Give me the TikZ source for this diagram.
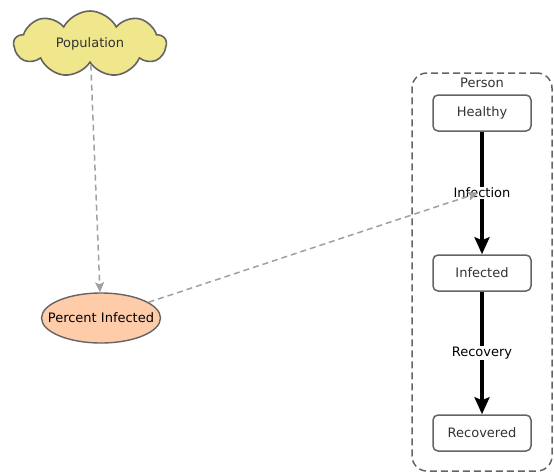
\documentclass[tikz,border=0pt]{standalone}
\usepackage{fontspec}
\setmainfont{DejaVu Sans}
\usetikzlibrary{shapes.symbols,shapes.geometric,arrows.meta,positioning}
\definecolor{cloudfill}{RGB}{240,230,140}
\definecolor{auxfill}{RGB}{255,204,170}
\definecolor{edgegray}{RGB}{100,100,100}
\definecolor{linkgray}{RGB}{160,160,160}
\definecolor{textgray}{RGB}{50,50,50}

\begin{document}
\begin{tikzpicture}[x=1pt, y=-1pt, node distance={122.5pt}, font=\fontsize{13}{15}\selectfont,
    stock/.style = {draw=edgegray, rounded corners=5pt, line width=1.5pt, minimum width=98pt, minimum height=36pt, text=textgray},
    flow/.style = {line width=3.2pt, -{Stealth[length=17pt,width=15pt,inset=3pt]}},
    flowlbl/.style = {fill=white, inner sep=1pt},
    link/.style = {draw=linkgray, dash pattern=on 6pt off 4pt, line width=1.5pt, -{Stealth[length=10pt,width=9pt,inset=2pt,fill=linkgray]}}]
    \useasboundingbox (0,0) rectangle (554,474);
    % container
    \node[draw=edgegray, dash pattern=on 7pt off 4pt, line width=1.5pt, rounded corners=15pt, minimum width=140pt, minimum height=398pt] (person) at (482,272) {};
    \node[text=textgray] (personlbl) at (482,83) {Person};
    % stocks
    \node[stock] (healthy) at (482,113) {Healthy};
    \node[stock] (infected) [below=of healthy] {Infected};
    \node[stock] (recovered) [below=of infected] {Recovered};
    % variables
    \node[cloud, cloud puffs=9, cloud puff arc=125, aspect=2.2, draw=edgegray, line width=1.6pt, fill=cloudfill, minimum width=152pt, minimum height=66pt, inner xsep=-6pt, text=textgray] (population) at (90,44) {Population};
    \node[ellipse, draw=edgegray, line width=1.4pt, fill=auxfill, minimum width=119pt, minimum height=50pt, inner xsep=-20pt, inner ysep=0pt] (pctinf) at (101,318) {Percent Infected};
    % flows
    \draw[flow] (healthy) -- node[flowlbl] (infection) {Infection} (infected);
    \draw[flow] (infected) -- node[flowlbl] (recovery) {Recovery} (recovered);
    % links
    \coordinate (inftgt) at (478,193);
    \draw[link] (population) -- (pctinf);
    \draw[link] (pctinf) -- (inftgt);
\end{tikzpicture}
\end{document}
